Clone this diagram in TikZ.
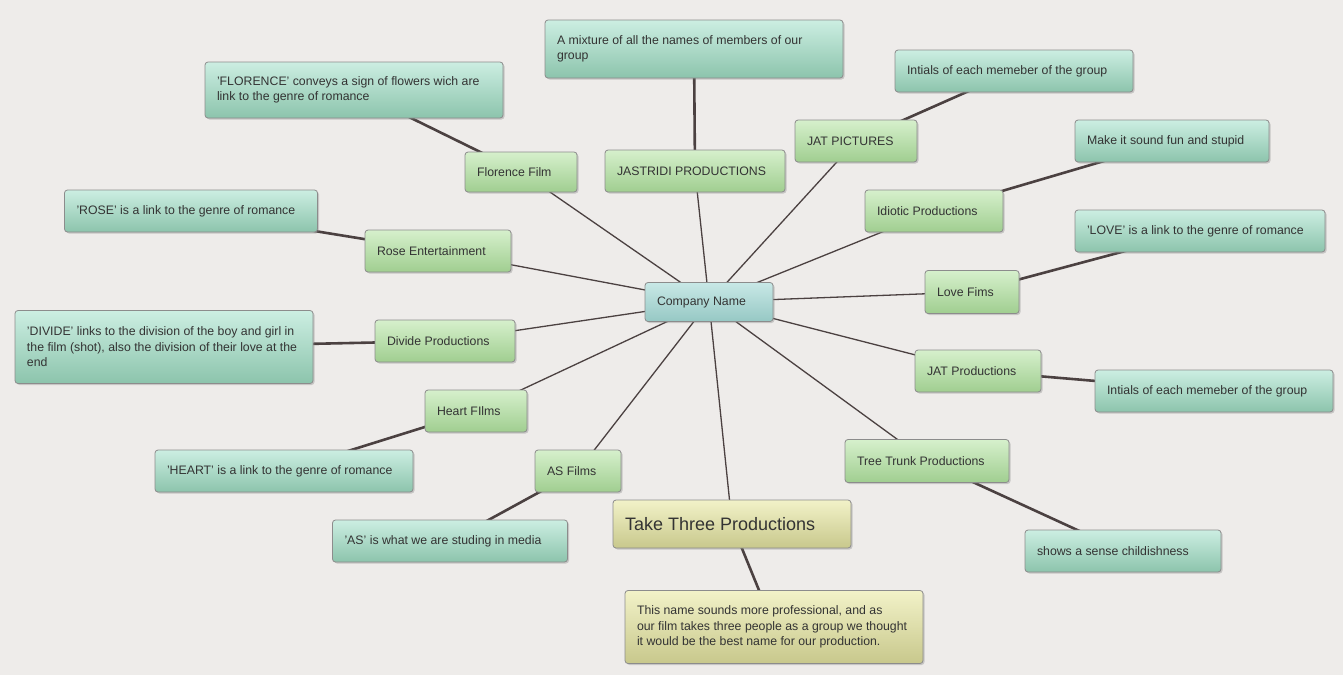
\documentclass[tikz,border=0pt]{standalone}
\usepackage{fontspec}
\setmainfont{Liberation Sans}
\usetikzlibrary{shadows,backgrounds}
\definecolor{bgc}{RGB}{238,236,234}
\definecolor{gt}{RGB}{214,240,204}\definecolor{gb}{RGB}{160,206,144}
\definecolor{tt1}{RGB}{204,238,226}\definecolor{tb}{RGB}{140,196,172}
\definecolor{ct}{RGB}{200,232,230}\definecolor{cb}{RGB}{150,200,196}
\definecolor{yt}{RGB}{242,242,200}\definecolor{yb}{RGB}{200,200,140}
\definecolor{lc}{RGB}{75,65,65}
\begin{document}
\begin{tikzpicture}[x=1pt,y=-1pt,
 box/.style={draw=black!45,line width=0.8pt,rounded corners=3pt,text=black!80,font=\fontsize{12.3}{15.5}\selectfont,align=flush left,inner xsep=12pt,drop shadow={shadow xshift=1.5pt,shadow yshift=-1.5pt,opacity=0.35}},
 grn/.style={box,top color=gt,bottom color=gb},
 tea/.style={box,top color=tt1,bottom color=tb},
 cen/.style={box,top color=ct,bottom color=cb},
 yel/.style={box,top color=yt,bottom color=yb},
 l1/.style={draw=lc,line width=1.3pt},
 l2/.style={draw=lc,line width=2.6pt}]
\useasboundingbox (0,0) rectangle (1343,675);
\newcommand{\bx}[7]{\node[#1,minimum width=#4,minimum height=#5,text width=#6] (#2) at (#3) {#7};}
\bx{cen}{c}{709,302}{128pt}{39pt}{104pt}{Company Name}
\bx{grn}{ff}{521,172}{112pt}{40pt}{88pt}{Florence Film}
\bx{grn}{jp}{695,171}{180pt}{42pt}{156pt}{JASTRIDI PRODUCTIONS}
\bx{grn}{jpic}{856,141}{122pt}{42pt}{98pt}{JAT PICTURES}
\bx{grn}{idp}{934,211}{138pt}{42pt}{114pt}{Idiotic Productions}
\bx{grn}{lf}{972,292}{94pt}{43pt}{70pt}{Love Fims}
\bx{grn}{jatp}{978,371}{126pt}{42pt}{102pt}{JAT Productions}
\bx{grn}{tt}{927,461}{164pt}{43pt}{140pt}{Tree Trunk Productions}
\bx{grn}{as}{578,471}{86pt}{42pt}{62pt}{AS Films}
\bx{grn}{hf}{476,411}{102pt}{42pt}{78pt}{Heart FIlms}
\bx{grn}{dp}{445,341}{140pt}{42pt}{116pt}{Divide Productions}
\bx{grn}{re}{438,251}{146pt}{42pt}{122pt}{Rose Entertainment}
\node[yel,minimum width=238pt,minimum height=48pt,text width=214pt,font=\fontsize{18}{20}\selectfont] (t3) at (732,524) {Take Three Productions};
\bx{tea}{eff}{354,90}{298pt}{56pt}{274pt}{'FLORENCE' conveys a sign of flowers wich are\\ link to the genre of romance}
\bx{tea}{ere}{191,211}{253pt}{42pt}{229pt}{'ROSE' is a link to the genre of romance}
\bx{tea}{edp}{164,347}{298pt}{73pt}{274pt}{'DIVIDE' links to the division of the boy and girl in\\ the film (shot), also the division of their love at the\\ end}
\bx{tea}{ehf}{284,471}{258pt}{42pt}{234pt}{'HEART' is a link to the genre of romance}
\bx{tea}{eas}{450,541}{235pt}{42pt}{211pt}{'AS' is what we are studing in media}
\bx{tea}{ejp}{694,49}{298pt}{58pt}{274pt}{A mixture of all the names of members of our\\ group}
\bx{tea}{ejpic}{1014,71}{238pt}{42pt}{214pt}{Intials of each memeber of the group}
\bx{tea}{eidp}{1172,141}{194pt}{42pt}{170pt}{Make it sound fun and stupid}
\bx{tea}{elf}{1200,231}{250pt}{42pt}{226pt}{'LOVE' is a link to the genre of romance}
\bx{tea}{ejatp}{1214,391}{238pt}{42pt}{214pt}{Intials of each memeber of the group}
\bx{tea}{ett}{1123,551}{196pt}{42pt}{172pt}{shows a sense childishness}
\bx{yel}{et3}{774,627}{298pt}{73pt}{274pt}{This name sounds more professional, and as\\ our film takes three people as a group we thought\\ it would be the best name for our production.}
\begin{scope}[on background layer]
\fill[bgc] (0,0) rectangle (1343,675);
\foreach \n in {ff,jp,jpic,idp,lf,jatp,tt,t3,as,hf,dp,re} \draw[l1] (c.center) -- (\n.center);
\draw[l2] (ff.center)--(eff.center); \draw[l2] (re.center)--(ere.center); \draw[l2] (dp.center)--(edp.center); \draw[l2] (hf.center)--(ehf.center);
\draw[l2] (as.center)--(eas.center); \draw[l2] (jp.center)--(ejp.center); \draw[l2] (jpic.center)--(ejpic.center); \draw[l2] (idp.center)--(eidp.center);
\draw[l2] (lf.center)--(elf.center); \draw[l2] (jatp.center)--(ejatp.center); \draw[l2] (tt.center)--(ett.center); \draw[l2] (t3.center)--(et3.center);
\end{scope}
\end{tikzpicture}
\end{document}
